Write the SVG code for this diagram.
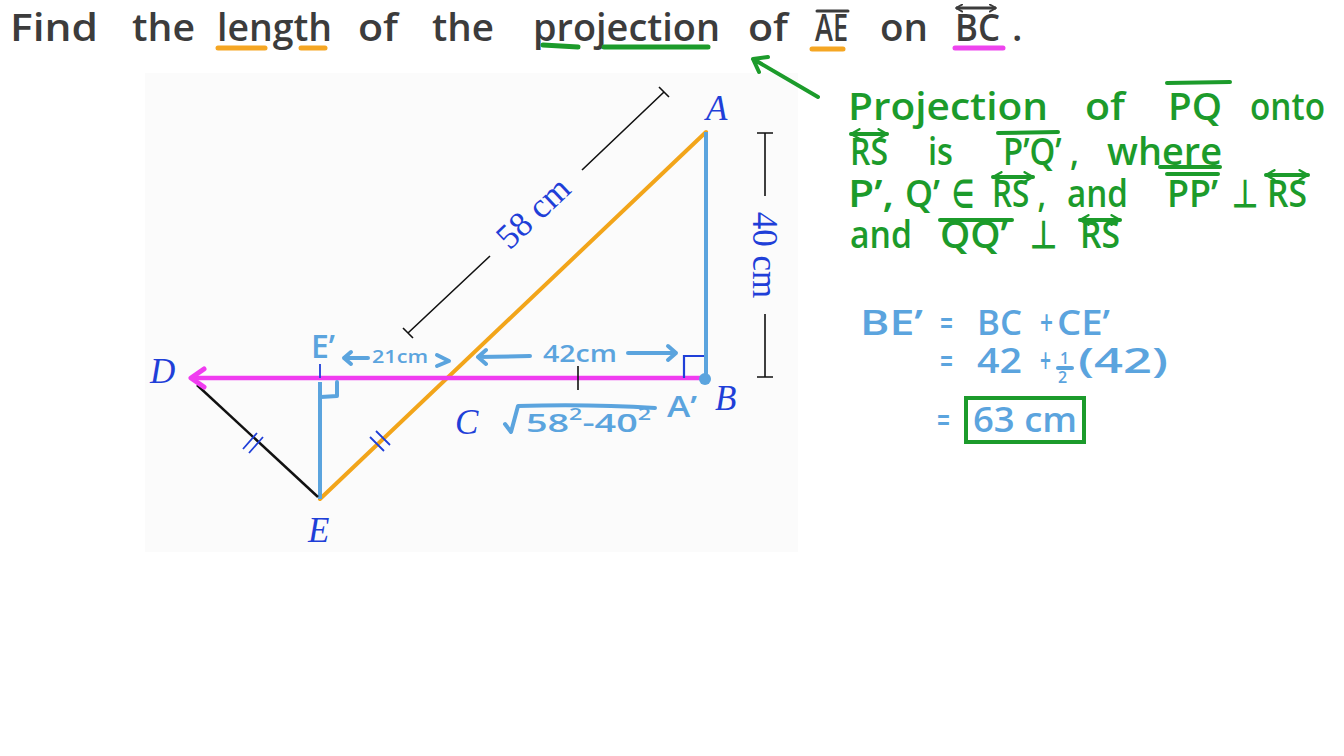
<svg xmlns="http://www.w3.org/2000/svg" width="1344" height="756" viewBox="0 0 1344 756">
<defs>
<style>
.hw{font-family:"Open Sans","Liberation Sans",sans-serif;font-weight:600;}
.title{font-size:38px;fill:#3c3c3c;}
.grn{font-size:38px;fill:#1c9b2b;}
.blu{font-size:35px;fill:#5ba4de;}
.lbl{font-family:"Liberation Serif",serif;font-style:italic;font-size:35px;fill:#1f3fd8;}
.dim{font-family:"Liberation Serif",serif;font-size:35px;fill:#1f3fd8;}
.gl{stroke:#1c9b2b;stroke-width:4;fill:none;stroke-linecap:round;stroke-linejoin:round;}
.bl{stroke:#5ba4de;stroke-width:4;fill:none;stroke-linecap:round;stroke-linejoin:round;}
.thin{stroke:#1f3fd8;stroke-width:1.8;fill:none;}
.blk{stroke:#111;stroke-width:1.6;fill:none;}
</style>
<marker id="gah" viewBox="0 0 10 10" refX="8" refY="5" markerWidth="3" markerHeight="3" orient="auto-start-reverse" markerUnits="strokeWidth">
<path d="M1,1 L8,5 L1,9" fill="none" stroke="#1c9b2b" stroke-width="2" stroke-linecap="round" stroke-linejoin="round"/>
</marker>
<marker id="kah" viewBox="0 0 10 10" refX="8" refY="5" markerWidth="3" markerHeight="3" orient="auto-start-reverse" markerUnits="strokeWidth">
<path d="M1,1 L8,5 L1,9" fill="none" stroke="#3c3c3c" stroke-width="2" stroke-linecap="round" stroke-linejoin="round"/>
</marker>
</defs>
<rect width="1344" height="756" fill="#ffffff"/>

<g id="figure">
<rect x="145" y="73" width="653" height="479" fill="#fbfbfb"/>
</g>

<g id="title">
<text class="hw title" x="10" y="41" textLength="88" lengthAdjust="spacingAndGlyphs">Find</text>
<text class="hw title" x="132" y="41" textLength="63" lengthAdjust="spacingAndGlyphs">the</text>
<text class="hw title" x="217" y="41" textLength="115" lengthAdjust="spacingAndGlyphs">length</text>
<text class="hw title" x="358" y="41" textLength="40" lengthAdjust="spacingAndGlyphs">of</text>
<text class="hw title" x="432" y="41" textLength="62" lengthAdjust="spacingAndGlyphs">the</text>
<text class="hw title" x="533" y="41" textLength="187" lengthAdjust="spacingAndGlyphs">projection</text>
<text class="hw title" x="748" y="41" textLength="40" lengthAdjust="spacingAndGlyphs">of</text>
<text class="hw title" x="815" y="41" textLength="33" lengthAdjust="spacingAndGlyphs">AE</text>
<text class="hw title" x="880" y="41" textLength="48" lengthAdjust="spacingAndGlyphs">on</text>
<text class="hw title" x="955" y="41" textLength="45" lengthAdjust="spacingAndGlyphs">BC</text>
<text class="hw title" x="1012" y="41">.</text>
<line x1="817" y1="11" x2="848" y2="11" stroke="#3c3c3c" stroke-width="3" stroke-linecap="round"/>
<line x1="956" y1="8" x2="996" y2="8" stroke="#3c3c3c" stroke-width="3" marker-start="url(#kah)" marker-end="url(#kah)"/>
<g stroke-width="5" stroke-linecap="round" fill="none">
<line x1="218" y1="48" x2="265" y2="48" stroke="#f5a623"/>
<line x1="301" y1="48" x2="325" y2="48" stroke="#f5a623"/>
<line x1="812" y1="49" x2="843" y2="49" stroke="#f5a623"/>
<line x1="543" y1="45" x2="578" y2="47" stroke="#1c9b2b"/>
<line x1="604" y1="47" x2="708" y2="47" stroke="#1c9b2b"/>
<line x1="955" y1="48" x2="1003" y2="48" stroke="#ee44ee"/>
</g>
</g>

<g id="pointer">
<path class="gl" d="M818,97 L753,59 M753,59 L768,57 M753,59 L759,72"/>
</g>

<g id="definition">
<text class="hw grn" x="848" y="120" textLength="200" lengthAdjust="spacingAndGlyphs">Projection</text>
<text class="hw grn" x="1085" y="120" textLength="40" lengthAdjust="spacingAndGlyphs">of</text>
<text class="hw grn" x="1168" y="120" textLength="54" lengthAdjust="spacingAndGlyphs">PQ</text>
<text class="hw grn" x="1250" y="120" textLength="75" lengthAdjust="spacingAndGlyphs">onto</text>
<line class="gl" x1="1167" y1="83" x2="1230" y2="82"/>

<text class="hw grn" x="850" y="165" textLength="38" lengthAdjust="spacingAndGlyphs">RS</text>
<text class="hw grn" x="928" y="165" textLength="25" lengthAdjust="spacingAndGlyphs">is</text>
<text class="hw grn" x="1003" y="165" textLength="76" lengthAdjust="spacingAndGlyphs">P’Q’ ,</text>
<text class="hw grn" x="1107" y="165" textLength="115" lengthAdjust="spacingAndGlyphs">where</text>
<line class="gl" x1="851" y1="134" x2="887" y2="134" marker-start="url(#gah)" marker-end="url(#gah)"/>
<line class="gl" x1="998" y1="133" x2="1058" y2="132"/>
<line class="gl" x1="1160" y1="167" x2="1220" y2="167"/>

<text class="hw grn" x="848" y="207" textLength="46" lengthAdjust="spacingAndGlyphs">P’,</text>
<text class="hw grn" x="905" y="207" textLength="35" lengthAdjust="spacingAndGlyphs">Q’</text>
<text class="hw grn" x="952" y="207" textLength="22" lengthAdjust="spacingAndGlyphs">∈</text>
<text class="hw grn" x="992" y="207" textLength="54" lengthAdjust="spacingAndGlyphs">RS ,</text>
<text class="hw grn" x="1067" y="207" textLength="61" lengthAdjust="spacingAndGlyphs">and</text>
<text class="hw grn" x="1167" y="207" textLength="51" lengthAdjust="spacingAndGlyphs">PP’</text>
<text class="hw grn" x="1232" y="207" textLength="26" lengthAdjust="spacingAndGlyphs">⊥</text>
<text class="hw grn" x="1267" y="207" textLength="40" lengthAdjust="spacingAndGlyphs">RS</text>
<line class="gl" x1="993" y1="177" x2="1033" y2="177" marker-start="url(#gah)" marker-end="url(#gah)"/>
<line class="gl" x1="1167" y1="174" x2="1218" y2="174"/>
<line class="gl" x1="1266" y1="175" x2="1308" y2="175" marker-start="url(#gah)" marker-end="url(#gah)"/>

<text class="hw grn" x="850" y="248" textLength="62" lengthAdjust="spacingAndGlyphs">and</text>
<text class="hw grn" x="940" y="248" textLength="68" lengthAdjust="spacingAndGlyphs">QQ’</text>
<text class="hw grn" x="1030" y="248" textLength="27" lengthAdjust="spacingAndGlyphs">⊥</text>
<text class="hw grn" x="1080" y="248" textLength="40" lengthAdjust="spacingAndGlyphs">RS</text>
<line class="gl" x1="940" y1="220" x2="1012" y2="220"/>
<line class="gl" x1="1080" y1="220" x2="1120" y2="220" marker-start="url(#gah)" marker-end="url(#gah)"/>
</g>

<g id="equation">
<text class="hw blu" x="860" y="335" textLength="63" lengthAdjust="spacingAndGlyphs">BE’</text>
<text class="hw blu" x="940" y="335" textLength="13" lengthAdjust="spacingAndGlyphs">=</text>
<text class="hw blu" x="977" y="335" textLength="45" lengthAdjust="spacingAndGlyphs">BC</text>
<text class="hw blu" x="1040" y="335" textLength="13" lengthAdjust="spacingAndGlyphs">+</text>
<text class="hw blu" x="1057" y="335" textLength="53" lengthAdjust="spacingAndGlyphs">CE’</text>
<text class="hw blu" x="940" y="373" textLength="13" lengthAdjust="spacingAndGlyphs">=</text>
<text class="hw blu" x="977" y="373" textLength="45" lengthAdjust="spacingAndGlyphs">42</text>
<text class="hw blu" x="1040" y="373" textLength="11" lengthAdjust="spacingAndGlyphs">+</text>
<text class="hw" x="1060" y="364" font-size="16" fill="#5ba4de">1</text>
<line class="bl" x1="1058" y1="368" x2="1072" y2="368" stroke-width="3"/>
<text class="hw" x="1058" y="383" font-size="16" fill="#5ba4de">2</text>
<text class="hw blu" x="1078" y="373" textLength="90" lengthAdjust="spacingAndGlyphs">(42)</text>
<text class="hw blu" x="937" y="432" textLength="13" lengthAdjust="spacingAndGlyphs">=</text>
<text class="hw blu" x="973" y="432" textLength="104" lengthAdjust="spacingAndGlyphs">63 cm</text>
<rect x="966" y="398" width="118" height="44" fill="none" stroke="#1c9b2b" stroke-width="4"/>
</g>

<g id="connectors">
<line x1="706" y1="132" x2="320" y2="499" stroke="#f2a51a" stroke-width="4" stroke-linecap="round"/>
<line x1="706" y1="132" x2="706" y2="378" stroke="#5ba4de" stroke-width="4"/>
<line x1="320" y1="382" x2="320" y2="499" stroke="#5ba4de" stroke-width="4"/>
<line x1="197" y1="385" x2="318" y2="497" stroke="#111" stroke-width="2.5"/>
<line x1="706" y1="378" x2="192" y2="378" stroke="#f03cf0" stroke-width="4.5"/>
<path d="M204,369 L191,378 L204,387" fill="none" stroke="#f03cf0" stroke-width="5" stroke-linecap="round" stroke-linejoin="round"/>
<circle cx="705" cy="379" r="6" fill="#5ba4de"/>
<line class="thin" x1="320" y1="364" x2="320" y2="378"/>
<line class="blk" x1="578" y1="366" x2="578" y2="390" stroke="#333"/>
<path class="bl" d="M321,397 L337,396 L337,382" stroke-width="3.5"/>
<path d="M684,378 V356 H704" fill="none" stroke="#1f3fd8" stroke-width="2.2"/>
<path class="thin" d="M243,449 L257,433 M249,453 L263,437"/>
<path class="thin" d="M370,437 L384,451 M376,431 L390,445"/>
<path class="blk" d="M408,333 L490,256 M582,170 L664,92 M403,328 L413,338 M659,87 L669,97"/>
<path class="blk" d="M765,133 V196 M765,314 V377 M757,133 H773 M757,377 H773"/>
</g>

<g id="labels">
<text class="lbl" x="706" y="120">A</text>
<text class="lbl" x="715" y="410">B</text>
<text class="lbl" x="455" y="434">C</text>
<text class="lbl" x="150" y="383">D</text>
<text class="lbl" x="308" y="542">E</text>
<text class="dim" text-anchor="middle" transform="translate(541,221) rotate(-43.4)">58 cm</text>
<text class="dim" text-anchor="middle" transform="translate(753,255) rotate(90)">40 cm</text>
<text class="hw" x="311" y="358" font-size="32" fill="#5ba4de" textLength="24" lengthAdjust="spacingAndGlyphs">E’</text>
<text class="hw" x="372" y="363" font-size="18" fill="#5ba4de" textLength="56" lengthAdjust="spacingAndGlyphs">21cm</text>
<text class="hw" x="543" y="362" font-size="23" fill="#5ba4de" textLength="74" lengthAdjust="spacingAndGlyphs">42cm</text>
<path class="bl" d="M368,358 L344,358 M351,352 L344,358 L351,364" stroke-width="3.5"/>
<path class="bl" d="M437,355 L449,361 L437,366" stroke-width="3.5"/>
<path class="bl" d="M530,356 L478,357 M486,350 L478,357 L486,364" stroke-width="3.5"/>
<path class="bl" d="M628,353 L676,353 M668,346 L676,353 L668,360" stroke-width="3.5"/>
<path class="bl" d="M505,424 L511,432 L518,406 Q590,404 655,408" stroke-width="3.5"/>
<text class="hw" x="526" y="432" font-size="26" fill="#5ba4de" textLength="125" lengthAdjust="spacingAndGlyphs">58<tspan font-size="16" dy="-12">2</tspan><tspan dy="12">-40</tspan><tspan font-size="16" dy="-12">2</tspan></text>
<text class="hw" x="667" y="417" font-size="28" fill="#5ba4de" textLength="30" lengthAdjust="spacingAndGlyphs">A’</text>
</g>
</svg>
